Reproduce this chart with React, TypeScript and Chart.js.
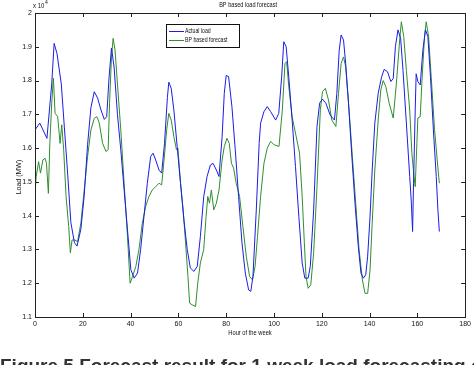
import React, { useEffect, useRef } from "react";
import { Chart, registerables } from "chart.js";

Chart.register(...registerables);

const chartTitle = "BP based load forecast";
const xTitle = "Hour of the week";
const yTitle = "Load (MW)";
const seriesNames = ["Actual load", "BP based forecast"];
const caption = "Figure 5 Forecast result for 1 week load forecasting of BP based LF model";

const actualHours = [0, 2, 5, 7, 8, 9.2, 11, 12.3, 13.7, 15, 16.5, 17.6, 19.2, 20.6, 22, 23.4, 24.8, 26.2, 27.6, 29, 30, 31, 32, 33.1, 34.5, 35.9, 37.3, 38.7, 40.1, 41.5, 42.9, 44.2, 45.6, 47, 48.4, 49.4, 50.5, 51.9, 53, 54.2, 55.4, 56, 57, 58.1, 59.5, 60.9, 62.3, 63.7, 65, 66.5, 67.9, 69.2, 70.6, 72, 73.4, 74.5, 75.9, 77, 78.3, 79.2, 80, 81, 82.4, 83.8, 85.2, 86.6, 88, 89.4, 90.3, 91.2, 92.6, 93.8, 94.4, 95.8, 97.2, 98.6, 100.7, 102, 103.2, 104.1, 105.1, 106.2, 107.6, 109, 110.4, 111.8, 112.9, 114.3, 115.2, 116.6, 118, 119.1, 120.3, 121.7, 123.5, 125.3, 126.3, 127.3, 128.1, 129.1, 130, 131.2, 132.5, 133.9, 135.3, 136.4, 137.4, 138.4, 139.2, 140.2, 141.1, 142.2, 143.6, 145, 146.1, 147.5, 148.9, 149.9, 150.8, 151.9, 153, 154, 155.4, 156.8, 157.5, 158, 158.4, 159.1, 159.5, 160.2, 161.2, 162.3, 163.4, 164.4, 165.5, 166.7, 167.9, 168.6, 169.2];
const actualLoad = [1.654, 1.674, 1.629, 1.79, 1.91, 1.88, 1.79, 1.66, 1.52, 1.38, 1.32, 1.31, 1.36, 1.46, 1.61, 1.72, 1.767, 1.748, 1.713, 1.685, 1.693, 1.81, 1.896, 1.84, 1.7, 1.595, 1.476, 1.358, 1.24, 1.215, 1.23, 1.3, 1.398, 1.496, 1.575, 1.585, 1.565, 1.535, 1.526, 1.614, 1.75, 1.795, 1.777, 1.713, 1.604, 1.496, 1.388, 1.3, 1.245, 1.235, 1.25, 1.338, 1.456, 1.516, 1.55, 1.555, 1.535, 1.516, 1.634, 1.762, 1.815, 1.812, 1.723, 1.595, 1.456, 1.32, 1.23, 1.18, 1.176, 1.22, 1.417, 1.614, 1.674, 1.708, 1.723, 1.708, 1.683, 1.703, 1.81, 1.915, 1.9, 1.81, 1.683, 1.545, 1.398, 1.26, 1.215, 1.215, 1.25, 1.417, 1.664, 1.733, 1.745, 1.733, 1.698, 1.683, 1.762, 1.89, 1.935, 1.92, 1.851, 1.733, 1.585, 1.437, 1.308, 1.23, 1.215, 1.225, 1.28, 1.398, 1.535, 1.674, 1.762, 1.81, 1.833, 1.826, 1.797, 1.806, 1.9, 1.95, 1.925, 1.83, 1.674, 1.516, 1.437, 1.353, 1.496, 1.713, 1.82, 1.797, 1.787, 1.89, 1.95, 1.93, 1.81, 1.654, 1.516, 1.417, 1.353];

const forecastHours = [0, 0.5, 1.5, 2.3, 3.3, 4.2, 4.8, 5.6, 6.2, 7, 7.7, 8.4, 9.5, 10.5, 11.2, 12, 13, 14.1, 14.8, 15.5, 16.7, 17.8, 19.2, 20.6, 22, 23.4, 24.8, 25.9, 26.9, 28.3, 29.7, 30.6, 31.2, 32, 32.7, 33.5, 34.5, 35.9, 37.3, 38.7, 39.8, 40.8, 42.2, 43.5, 44.9, 46.3, 47.7, 49.1, 50.5, 51.9, 53, 54, 55.1, 56, 57, 58.1, 59.2, 59.8, 60.9, 62, 63, 64, 64.7, 65.8, 67.2, 68.1, 69.2, 70.6, 71.6, 72.3, 73, 73.8, 74.8, 75.9, 77, 78.3, 79.2, 80.3, 81.3, 82.2, 83.1, 84.2, 85.6, 87, 88.4, 89.8, 91, 92.1, 93.1, 94.4, 95.8, 97.2, 98.6, 100, 102.1, 103.5, 104.6, 105.3, 106.2, 107.6, 109.3, 110.7, 111.8, 112.7, 113.4, 114.3, 115.4, 116.6, 118, 119.4, 120.3, 121.5, 122.8, 124.2, 125.9, 127, 128.1, 129.1, 130, 131.4, 132.8, 134.2, 135.6, 137, 138.1, 139.2, 140.2, 141.1, 142.2, 143.6, 144.7, 145.7, 146.8, 148.2, 149.9, 151.2, 152.6, 153.3, 154.3, 155.4, 156.8, 157.7, 158.6, 159.1, 159.8, 160.2, 161.2, 162, 163, 163.7, 164.7, 165.8, 167.2, 168.3, 169.2];
const forecastLoad = [1.466, 1.516, 1.56, 1.526, 1.565, 1.57, 1.555, 1.466, 1.614, 1.733, 1.807, 1.703, 1.693, 1.614, 1.669, 1.595, 1.457, 1.368, 1.29, 1.328, 1.328, 1.323, 1.378, 1.476, 1.575, 1.654, 1.688, 1.693, 1.674, 1.614, 1.59, 1.595, 1.733, 1.87, 1.925, 1.89, 1.79, 1.654, 1.496, 1.338, 1.2, 1.22, 1.25, 1.3, 1.378, 1.427, 1.457, 1.476, 1.486, 1.496, 1.491, 1.565, 1.654, 1.703, 1.683, 1.634, 1.595, 1.6, 1.496, 1.417, 1.32, 1.22, 1.141, 1.136, 1.131, 1.2, 1.26, 1.3, 1.398, 1.457, 1.437, 1.476, 1.417, 1.437, 1.476, 1.565, 1.604, 1.629, 1.614, 1.555, 1.541, 1.496, 1.457, 1.368, 1.28, 1.22, 1.21, 1.25, 1.338, 1.457, 1.555, 1.6, 1.62, 1.61, 1.605, 1.713, 1.851, 1.856, 1.782, 1.693, 1.634, 1.585, 1.457, 1.32, 1.22, 1.185, 1.195, 1.29, 1.486, 1.713, 1.767, 1.777, 1.743, 1.683, 1.664, 1.762, 1.851, 1.87, 1.841, 1.713, 1.575, 1.437, 1.3, 1.21, 1.17, 1.17, 1.24, 1.378, 1.535, 1.683, 1.772, 1.8, 1.782, 1.733, 1.689, 1.79, 1.92, 1.974, 1.93, 1.83, 1.713, 1.585, 1.516, 1.486, 1.614, 1.689, 1.693, 1.81, 1.93, 1.974, 1.93, 1.81, 1.654, 1.565, 1.496];

const xMin = 0, xMax = 180, xStep = 20;
const yMin = 1.1, yMax = 2.0, yStep = 0.1;

const BLUE = "#1c1ce6";
const GREEN = "#2e8f2e";
const FONT = "'Liberation Sans', Arial, sans-serif";

function squeezeText(ctx: CanvasRenderingContext2D, text: string, x: number, y: number, sx: number) {
  ctx.save();
  ctx.translate(x, y);
  ctx.scale(sx, 1);
  ctx.fillText(text, 0, 0);
  ctx.restore();
}

export default function App() {
  const ref = useRef<HTMLCanvasElement | null>(null);
  useEffect(() => {
    const canvas = ref.current!;
    const toPts = (xs: number[], ys: number[]) => xs.map((x, i) => ({ x, y: ys[i] }));

    const decor = {
      id: "decor",
      afterDraw(chart: any) {
        const { ctx, chartArea: a, scales } = chart;
        const xs = scales.x, ys = scales.y;
        ctx.save();
        ctx.strokeStyle = "#222";
        ctx.lineWidth = 1;
        ctx.strokeRect(Math.round(a.left) + 0.5, Math.round(a.top) + 0.5, Math.round(a.right - a.left), Math.round(a.bottom - a.top));
        ctx.beginPath();
        const tl = 4;
        xs.ticks.forEach((t: any) => {
          const px = Math.round(xs.getPixelForValue(t.value)) + 0.5;
          ctx.moveTo(px, a.bottom); ctx.lineTo(px, a.bottom - tl);
          ctx.moveTo(px, a.top); ctx.lineTo(px, a.top + tl);
        });
        ys.ticks.forEach((t: any) => {
          const py = Math.round(ys.getPixelForValue(t.value)) + 0.5;
          ctx.moveTo(a.left, py); ctx.lineTo(a.left + tl, py);
          ctx.moveTo(a.right, py); ctx.lineTo(a.right - tl, py);
        });
        ctx.stroke();

        ctx.fillStyle = "#111";
        ctx.font = `7px ${FONT}`;
        ctx.textAlign = "center";
        ctx.textBaseline = "middle";
        squeezeText(ctx, chartTitle, (a.left + a.right) / 2 - 2, 5, 0.8);
        squeezeText(ctx, xTitle, 250, 333, 0.82);
        ctx.save();
        ctx.translate(19, 177);
        ctx.rotate(-Math.PI / 2);
        ctx.fillText(yTitle, 0, 0);
        ctx.restore();
        ctx.textAlign = "left";
        squeezeText(ctx, "x 10", 33, 6, 0.85);
        ctx.font = `5px ${FONT}`;
        ctx.fillText("4", 45, 3);

        // legend
        const lx = 166, ly = 24, lw = 73, lh = 23;
        ctx.fillStyle = "#fff";
        ctx.fillRect(lx, ly, lw, lh);
        ctx.strokeStyle = "#111";
        ctx.strokeRect(lx + 0.5, ly + 0.5, lw, lh);
        const cols = [BLUE, GREEN];
        seriesNames.forEach((n, i) => {
          const yy = ly + 7.5 + i * 9;
          ctx.strokeStyle = cols[i];
          ctx.beginPath();
          ctx.moveTo(169, yy); ctx.lineTo(184, yy);
          ctx.stroke();
          ctx.fillStyle = "#111";
          ctx.font = `6.5px ${FONT}`;
          ctx.textAlign = "left";
          squeezeText(ctx, n, 185, yy, 0.8);
        });

        // caption (clipped by canvas edge)
        ctx.fillStyle = "#333";
        ctx.font = `bold 19px ${FONT}`;
        ctx.textAlign = "left";
        ctx.textBaseline = "alphabetic";
        ctx.fillText(caption, 0, 372);
        ctx.restore();
      },
    };

    const chart = new Chart(canvas, {
      type: "line",
      data: {
        datasets: [
          { label: seriesNames[0], data: toPts(actualHours, actualLoad), borderColor: BLUE, borderWidth: 1, pointRadius: 0, tension: 0, fill: false },
          { label: seriesNames[1], data: toPts(forecastHours, forecastLoad), borderColor: GREEN, borderWidth: 1, pointRadius: 0, tension: 0, fill: false },
        ],
      },
      options: {
        animation: false,
        responsive: false,
        devicePixelRatio: 1,
        layout: { padding: { top: 13, right: 7, left: 0, bottom: 0 } },
        plugins: { legend: { display: false }, title: { display: false }, tooltip: { enabled: false } },
        scales: {
          x: {
            type: "linear",
            min: xMin, max: xMax,
            grid: { display: false, drawTicks: false },
            border: { display: false },
            ticks: { stepSize: xStep, padding: 3, color: "#111", font: { size: 7, family: FONT }, maxRotation: 0, autoSkip: false },
            afterFit: (s: any) => { s.height = 48; },
          },
          y: {
            type: "linear",
            min: yMin, max: yMax,
            grid: { display: false, drawTicks: false },
            border: { display: false },
            ticks: { stepSize: yStep, padding: 3, color: "#111", font: { size: 7, family: FONT }, callback: (v: any) => String(+Number(v).toFixed(1)) },
            afterFit: (s: any) => { s.width = 35; },
          },
        },
      } as any,
      plugins: [decor],
    });
    return () => chart.destroy();
  }, []);

  return (
    <div style={{ position: "fixed", left: 0, top: 0, width: 474, height: 365, background: "#fff", overflow: "hidden" }}>
      <canvas ref={ref} width={474} height={365} style={{ display: "block", width: 474, height: 365 }} />
    </div>
  );
}
